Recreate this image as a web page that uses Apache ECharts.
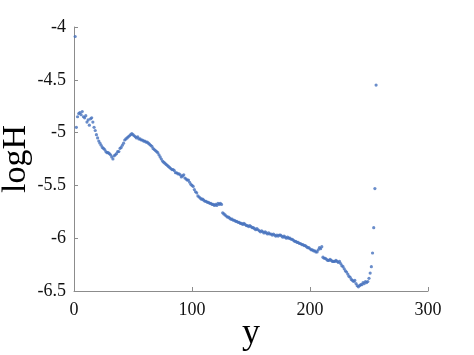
<!DOCTYPE html>
<html><head><meta charset="utf-8">
<script src="https://cdn.jsdelivr.net/npm/echarts@6/dist/echarts.min.js"></script>
<style>html,body{margin:0;padding:0;background:#fff}#c{width:474px;height:355px}</style>
</head><body><div id="c"></div>
<script>
var xStart = 1;
var logH = [
-4.09,-4.95,-4.85,-4.82,-4.81,-4.83,-4.80,-4.85,-4.86,-4.84,
-4.90,-4.88,-4.93,-4.87,-4.86,-4.90,-4.95,-4.98,-5.02,-5.05,
-5.08,-5.10,-5.12,-5.14,-5.15,-5.16,-5.18,-5.19,-5.19,-5.20,
-5.21,-5.23,-5.25,-5.22,-5.21,-5.20,-5.18,-5.18,-5.15,-5.14,
-5.12,-5.10,-5.07,-5.06,-5.05,-5.04,-5.03,-5.02,-5.01,-5.02,
-5.03,-5.04,-5.05,-5.04,-5.06,-5.06,-5.07,-5.07,-5.08,-5.08,
-5.09,-5.09,-5.10,-5.11,-5.12,-5.13,-5.15,-5.16,-5.17,-5.18,
-5.19,-5.21,-5.23,-5.25,-5.27,-5.28,-5.29,-5.30,-5.31,-5.32,
-5.33,-5.34,-5.35,-5.35,-5.36,-5.38,-5.38,-5.39,-5.39,-5.40,
-5.42,-5.41,-5.40,-5.43,-5.44,-5.45,-5.45,-5.47,-5.49,-5.50,
-5.51,-5.54,-5.56,-5.57,-5.60,-5.61,-5.62,-5.63,-5.63,-5.64,
-5.65,-5.65,-5.66,-5.66,-5.67,-5.67,-5.68,-5.68,-5.69,-5.68,
-5.69,-5.67,-5.68,-5.67,-5.68,-5.76,-5.77,-5.78,-5.79,-5.80,
-5.80,-5.81,-5.82,-5.82,-5.83,-5.83,-5.84,-5.84,-5.85,-5.85,
-5.86,-5.86,-5.87,-5.86,-5.87,-5.88,-5.88,-5.89,-5.88,-5.89,
-5.90,-5.90,-5.91,-5.92,-5.91,-5.92,-5.93,-5.94,-5.93,-5.94,
-5.95,-5.94,-5.95,-5.96,-5.95,-5.96,-5.96,-5.97,-5.96,-5.97,
-5.98,-5.97,-5.98,-5.97,-5.97,-5.98,-5.99,-5.98,-5.99,-6.00,
-5.99,-6.00,-6.00,-6.01,-6.01,-6.02,-6.03,-6.03,-6.04,-6.04,
-6.05,-6.05,-6.06,-6.06,-6.07,-6.07,-6.08,-6.09,-6.09,-6.10,
-6.11,-6.11,-6.12,-6.12,-6.13,-6.13,-6.11,-6.09,-6.10,-6.08,
-6.18,-6.19,-6.19,-6.20,-6.21,-6.21,-6.20,-6.21,-6.22,-6.22,
-6.22,-6.21,-6.22,-6.23,-6.22,-6.24,-6.26,-6.27,-6.29,-6.31,
-6.32,-6.34,-6.36,-6.37,-6.39,-6.40,-6.41,-6.40,-6.43,-6.45,
-6.46,-6.45,-6.44,-6.44,-6.42,-6.43,-6.41,-6.42,-6.41,-6.38,
-6.33,-6.27,-6.14,-5.90,-5.53,-4.55
];
var xTicks = [0, 100, 200, 300];
var yTicks = [-6.5, -6, -5.5, -5, -4.5, -4];
var xName = 'y';
var yName = 'logH';

var pts = logH.map(function (v, i) { return [xStart + i, v]; });
var serif = 'Liberation Serif';
var axisCol = '#8c8c8c';
var chart = echarts.init(document.getElementById('c'), null, {renderer: 'canvas'});
chart.setOption({
  animation: false,
  backgroundColor: '#fff',
  textStyle: {fontFamily: serif},
  grid: {left: 74, right: 46, top: 27, bottom: 64, containLabel: false, outerBoundsMode: 'none'},
  xAxis: {
    type: 'value', min: xTicks[0], max: xTicks[xTicks.length - 1], interval: 100,
    name: xName, nameLocation: 'middle', nameGap: 25, nameMoveOverlap: false,
    nameTextStyle: {fontFamily: serif, fontSize: 36, color: '#000'},
    axisLine: {show: true, lineStyle: {color: axisCol, width: 1}},
    axisTick: {show: true, inside: true, length: 4, lineStyle: {color: axisCol}},
    axisLabel: {fontFamily: serif, fontSize: 18, color: '#111', margin: 10},
    splitLine: {show: false}
  },
  yAxis: {
    type: 'value', min: yTicks[0], max: yTicks[yTicks.length - 1], interval: 0.5,
    name: yName, nameLocation: 'middle', nameGap: 41, nameRotate: 90, nameMoveOverlap: false,
    nameTextStyle: {fontFamily: serif, fontSize: 34, color: '#000'},
    axisLine: {show: true, lineStyle: {color: axisCol, width: 1}},
    axisTick: {show: true, inside: true, length: 4, lineStyle: {color: axisCol}},
    axisLabel: {fontFamily: serif, fontSize: 18, color: '#111', margin: 8},
    splitLine: {show: false}
  },
  series: [{
    type: 'scatter', data: pts, symbol: 'circle', symbolSize: 3.2,
    itemStyle: {color: '#4570bd'}
  }]
});
</script></body></html>
